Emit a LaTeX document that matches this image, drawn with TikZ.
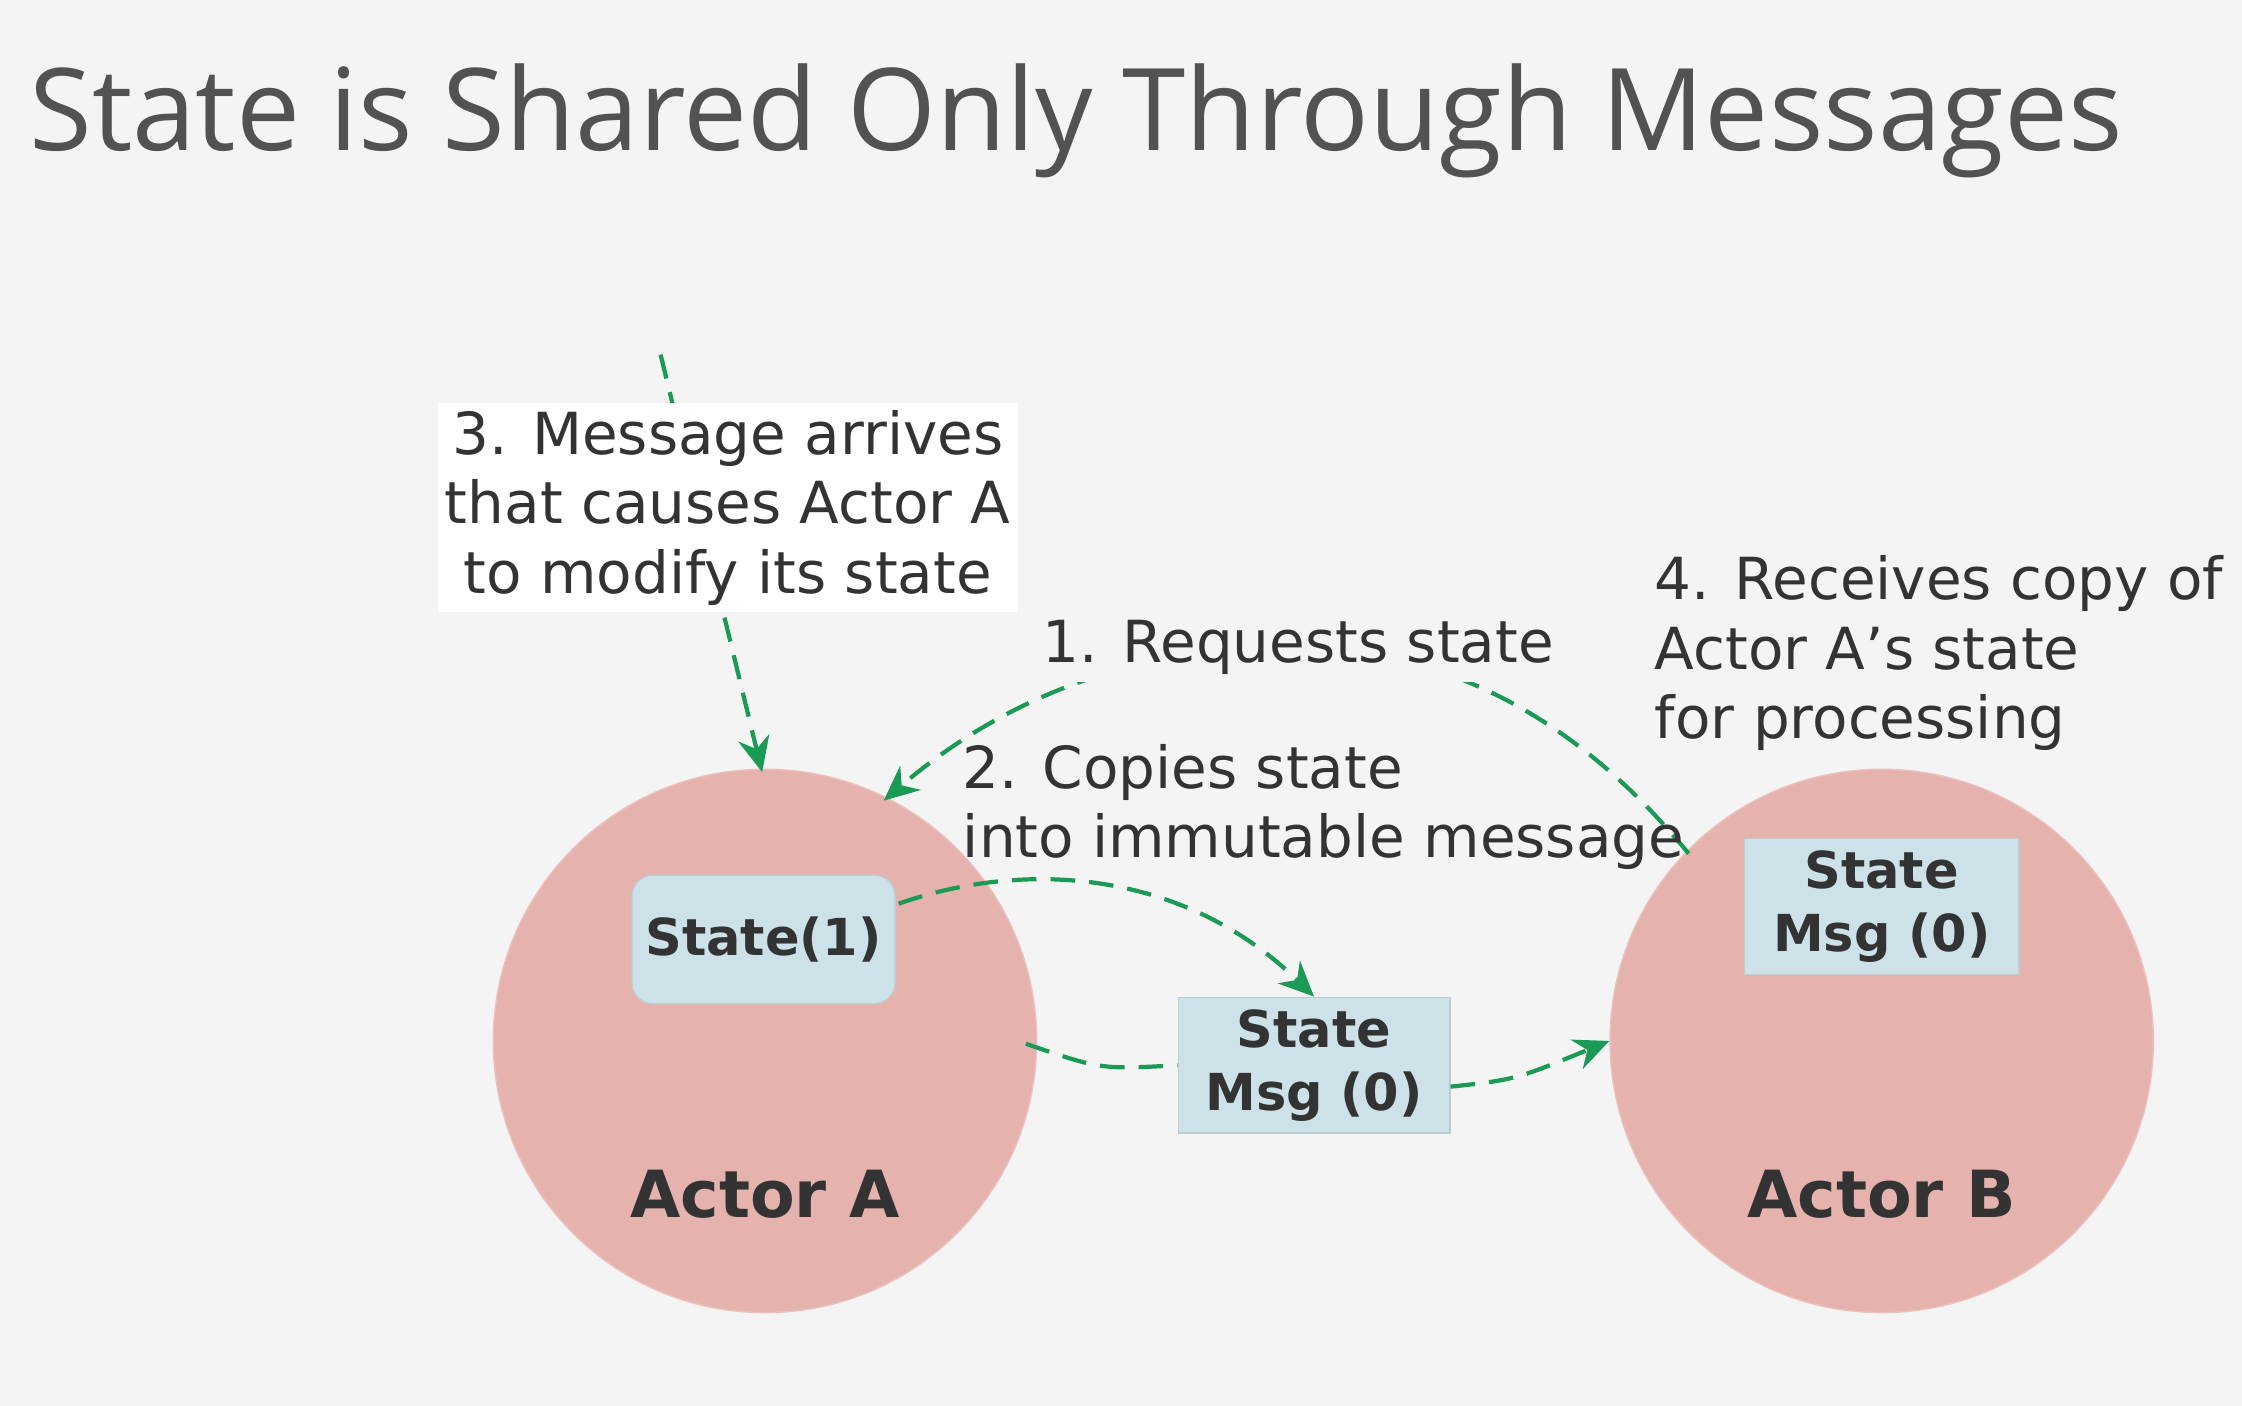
\documentclass[tikz,border=0pt]{standalone}
\usepackage{fontspec}
\setmainfont{DejaVu Sans}
\newfontfamily\titlefont{Open Sans}
\usetikzlibrary{arrows.meta, positioning}
\definecolor{bgGray}{HTML}{F4F4F4}
\definecolor{actorRed}{HTML}{E6B2AE}
\definecolor{boxBlue}{HTML}{CCE2E8}
\definecolor{flowGreen}{HTML}{1A9A55}
\definecolor{textGray}{HTML}{333333}
\begin{document}
\begin{tikzpicture}[x=0.0143cm, y=-0.0143cm,
    actor/.style={circle, minimum size=380*0.0143cm, fill=actorRed, draw=actorRed!80!white, inner sep=0pt},
    statebox/.style={fill=boxBlue, draw=boxBlue!80!gray, align=center, font=\bfseries\fontsize{14.5}{18}\selectfont, text=textGray},
    note/.style={align=left, font=\fontsize{16.5}{19.8}\selectfont, text=textGray, inner sep=2pt},
    flow/.style={flowGreen, line width=1.2pt, dash pattern=on 7pt off 4pt, -{Stealth[length=10pt,width=9pt]}}]
      % Background and title
      \useasboundingbox (0,0) rectangle (1568,983);
      \fill[bgGray] (0,0) rectangle (1568,983);
      \node[anchor=base west, inner sep=0pt, text=textGray!85, font=\titlefont\fontsize{32.5}{38}\selectfont] (title) at (20,105) {State is Shared Only Through Messages};
      
      % Actors
      \node[actor] (actorA) at (535,728) {};
      \node[actor] (actorB) at (1316,728) {};
      \node[font=\bfseries\fontsize{18.5}{22}\selectfont, text=textGray] (nameA) at (535,835) {Actor A};
      \node[font=\bfseries\fontsize{18.5}{22}\selectfont, text=textGray] (nameB) at (1316,835) {Actor B};
      
      % State boxes
      \node[statebox, rounded corners=6pt, minimum width=184*0.0143cm, minimum height=90*0.0143cm] (stateA) at (534,657) {State(1)};
      \node[statebox, minimum width=190*0.0143cm, minimum height=95*0.0143cm] (msgMid) at (919,745) {State\\Msg (0)};
      \node[statebox, minimum width=192*0.0143cm, minimum height=95*0.0143cm] (msgB) at (1316,634) {State\\Msg (0)};
      
      % Connectors
      \coordinate (inStart) at (462,248);
      \coordinate (inEnd) at (533,540);
      \coordinate (reqStart) at (1181,597);
      \coordinate (reqEnd) at (618,560);
      \draw[flow] (inStart) -- (inEnd);
      \draw[flow] (reqStart) .. controls (1110,510) and (1020,455) .. (908,452) .. controls (790,452) and (700,490) .. (reqEnd);
      \draw[flow] (stateA.east) ++(2,-25) .. controls (720,600) and (830,610) .. (msgMid.north);
      \draw[flow, -] (actorA.east) ++(-8,2) .. controls (770,748) .. (msgMid.west);
      \draw[flow] (msgMid.east) ++(0,15) .. controls (1060,755) .. (actorB.west);
      
      % Labels
      \node[note, fill=white, align=center] (lblThree) at (509,355) {3. Message arrives\\that causes Actor A\\to modify its state};
      \node[note, fill=bgGray] (lblOne) at (908,453) {1. Requests state};
      \node[note, anchor=north west] (lblTwo) at (668,515) {2. Copies state\\into immutable message};
      \node[note, anchor=north west] (lblFour) at (1152,383) {4. Receives copy of\\Actor A\symbol{39}s state\\for processing};
\end{tikzpicture}
\end{document}
